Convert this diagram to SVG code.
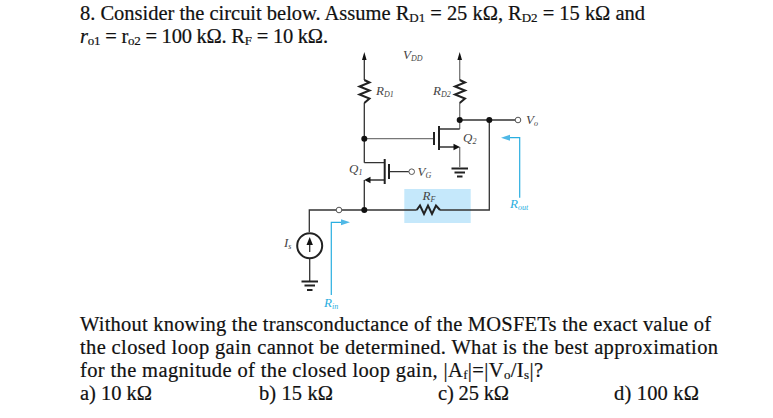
<svg xmlns="http://www.w3.org/2000/svg" width="773" height="418" viewBox="0 0 773 418">
<style>
.t{font-family:"Liberation Serif","DejaVu Serif",serif;font-size:20.5px;fill:#111;stroke:#111;stroke-width:.2}
.s{font-size:13px}
.w{fill:none;stroke:#777;stroke-width:1.3}
.k{fill:none;stroke:#333;stroke-width:1.3}
.b{fill:none;stroke:#222;stroke-width:2}
.c{fill:none;stroke:#2aaee0;stroke-width:1.2}
.o{fill:#fff;stroke:#555;stroke-width:1}
.d{fill:#111}
.l{font-family:"Liberation Serif",serif;font-style:italic;font-size:13px;fill:#444}
.m{font-size:8px}
.i{fill:#4fb8e6}
</style>
<rect width="773" height="418" fill="#fff"/>
<g id="rf-highlight"><rect x="404.300" y="189" width="66.400" height="34" fill="#c5e8fb"/></g>
<g id="connectors">
<path class="k" d="M364.300 56V80M364.300 103V162.700M364.300 180V210"/>
<path class="w" d="M459.700 56V80M459.700 103V129M459.700 147V167M364.300 138.700H434"/>
<path class="k" d="M459.700 120H515.200M439 129H459.700M439 147H455M489.300 120V210H440M416.700 210H341.800M336.200 210H309.300V232M309.700 259V281"/>
<path class="k" d="M364.300 162.700H385M370 180H385M389 171.700H408.900"/>
<path class="c" d="M331.300 295V222.300H346M519.700 197.700V137.700H504"/>
<path class="i" d="M350 222.300L341 219.300V225.300ZM501 137.700L510 134.700V140.700Z"/>
<path class="d" d="M364.300 52L362 60H366.600ZM459.700 52L457.400 60H462ZM460 147L453.500 143.700V150.300ZM364.300 180L370.500 176.700V183.300Z"/>
</g>
<g id="RD1"><path class="b" d="M364.300 80L369.500 82.500L359.500 86.500L369.500 90.500L359.500 94.500L369.500 98.500L364.300 103"/><text class="l" x="376" y="95">R<tspan class="m" dy="2">D1</tspan></text></g>
<g id="RD2"><path class="b" d="M459.700 80L465 82.500L455 86.500L465 90.500L455 94.500L465 98.500L459.700 103"/><text class="l" x="433" y="95">R<tspan class="m" dy="2">D2</tspan></text></g>
<g id="VDD"><text class="l" x="403" y="59">V<tspan class="m" dy="2">DD</tspan></text></g>
<g id="Q1"><path class="b" d="M384.700 159V184M389 164V179"/><text class="l" x="349" y="173">Q<tspan class="m" dy="2">1</tspan></text></g>
<g id="Q2"><path class="b" d="M434 132V145M439 126V150"/><text class="l" x="463" y="141.500">Q<tspan class="m" dy="2">2</tspan></text></g>
<g id="VG"><circle class="o" cx="411.700" cy="171.700" r="2.800"/><text class="l" x="417.500" y="176">V<tspan class="m" dy="2">G</tspan></text></g>
<g id="Vo"><circle class="o" cx="518" cy="120" r="2.800"/><circle class="d" cx="459.700" cy="120" r="3"/><circle class="d" cx="489.300" cy="120" r="3"/><text class="l" x="526" y="124">V<tspan class="m" dy="2">o</tspan></text></g>
<g id="node-gate"><circle class="d" cx="364.300" cy="138.700" r="3"/></g>
<g id="node-input"><circle class="d" cx="364.300" cy="210" r="3"/><circle class="o" cx="339" cy="210" r="2.800"/></g>
<g id="RF"><path class="b" d="M416.700 210L420 205.500L424 214L428 205.500L432 214L436 205.500L440 210"/><text class="l" x="422.500" y="200">R<tspan class="m" dy="2">F</tspan></text></g>
<g id="Is"><circle cx="309.700" cy="245.700" r="12.500" fill="#fff" stroke="#222" stroke-width="2"/><path class="k" d="M309.700 252V240"/><path class="d" d="M309.700 237L306.500 245H312.900Z"/><text class="l" x="284" y="247">I<tspan class="m" dy="2">s</tspan></text></g>
<g id="ground-1"><path class="b" d="M451.500 168.500H468M454.500 172.500H465M457 176.500H462.500"/></g>
<g id="ground-2"><path class="b" d="M301.500 281.500H318M304.500 285.500H315M307 290H312.500"/></g>
<g id="Rin"><text class="l" x="324" y="307" style="fill:#2aaee0">R<tspan class="m" dy="2">in</tspan></text></g>
<g id="Rout"><text class="l" x="510" y="208" style="fill:#2aaee0">R<tspan class="m" dy="2">out</tspan></text></g>
<g id="text">
<text class="t" x="80" y="20" textLength="565" lengthAdjust="spacing">8. Consider the circuit below. Assume R<tspan class="s" dy="2">D1</tspan><tspan dy="-2"> = 25 kΩ, R</tspan><tspan class="s" dy="2">D2</tspan><tspan dy="-2"> = 15 kΩ and</tspan></text>
<text class="t" x="80" y="43" textLength="248" lengthAdjust="spacing"><tspan font-style="italic">r</tspan><tspan class="s" dy="2">o1</tspan><tspan dy="-2"> = r</tspan><tspan class="s" dy="2">o2</tspan><tspan dy="-2"> = 100 kΩ. R</tspan><tspan class="s" dy="2">F</tspan><tspan dy="-2"> = 10 kΩ.</tspan></text>
<text class="t" x="80" y="331" textLength="631" lengthAdjust="spacing">Without knowing the transconductance of the MOSFETs the exact value of</text>
<text class="t" x="80" y="354" textLength="638" lengthAdjust="spacing">the closed loop gain cannot be determined. What is the best approximation</text>
<text class="t" x="80" y="377" textLength="463" lengthAdjust="spacing">for the magnitude of the closed loop gain, |A<tspan class="s" dy="2">f</tspan><tspan dy="-2">|=|V</tspan><tspan class="s" dy="2">o</tspan><tspan dy="-2">/I</tspan><tspan class="s" dy="2">s</tspan><tspan dy="-2">|?</tspan></text>
<text class="t" x="80" y="400" textLength="72" lengthAdjust="spacing">a) 10 kΩ</text>
<text class="t" x="259" y="400" textLength="74" lengthAdjust="spacing">b) 15 kΩ</text>
<text class="t" x="438" y="400" textLength="71" lengthAdjust="spacing">c) 25 kΩ</text>
<text class="t" x="614" y="400" textLength="85" lengthAdjust="spacing">d) 100 kΩ</text>
</g>
</svg>
